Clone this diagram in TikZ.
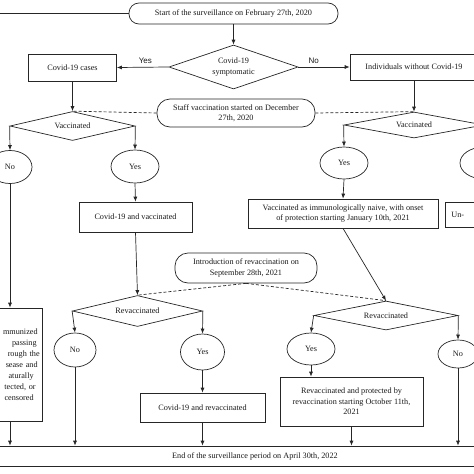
\documentclass[tikz,border=0pt]{standalone}
\usepackage{fontspec}
\setmainfont{Liberation Serif}
\newfontfamily\labfont{Liberation Sans}
\usetikzlibrary{shapes.geometric,arrows.meta}
\begin{document}
\begin{tikzpicture}[x=1pt,y=-1pt,
  every node/.style={font=\fontsize{8.2}{10.5}\selectfont, text=black!90},
  line/.style={draw=black!85, line width=0.7pt},
  arr/.style={line, -{Latex[length=5pt,width=4pt]}},
  dashline/.style={line, dash pattern=on 3pt off 2pt},
  box/.style={rectangle, line, inner sep=3pt, align=center},
  term/.style={rectangle, line, rounded corners=10pt, align=center},
  dia/.style={diamond, line, inner sep=0pt, align=center},
  ell/.style={ellipse, line, inner sep=0pt},
  lab/.style={font=\labfont\fontsize{8}{9}\selectfont, above}
]
\useasboundingbox (0,0) rectangle (474,474);
\clip (0,0) rectangle (474,474);

\coordinate (lstart) at (0,13.5);
\node[term, minimum width=209pt, minimum height=21pt] (start) at (233.5,13.5) {Start of the surveillance on February 27th, 2020};
\node[dia, shape aspect=2.9, minimum width=129pt, minimum height=44pt] (symp) at (233.5,67) {Covid-19\\symptomatic};
\node[box, minimum width=88pt, minimum height=27pt] (cases) at (72.5,67.5) {Covid-19 cases};
\node[box, minimum width=128pt, minimum height=26pt] (ind) at (414,67) {Individuals without Covid-19};
\node[dia, shape aspect=4.3, minimum width=125pt, minimum height=29pt] (vacL) at (72.5,126) {Vaccinated};
\node[dia, shape aspect=5.4, minimum width=140pt, minimum height=26pt] (vacR) at (414,125) {Vaccinated};
\node[term, rounded corners=13pt, minimum width=158pt, minimum height=28pt] (staff) at (236,113) {Staff vaccination started on December\\27th, 2020};

\node[ell, minimum width=44pt, minimum height=33pt] (noL) at (10,167) {No};
\node[ell, minimum width=48pt, minimum height=33pt] (yesL) at (135,166.5) {Yes};
\node[ell, minimum width=48pt, minimum height=32pt] (yesR) at (344,163) {Yes};
\node[ell, minimum width=48pt, minimum height=32pt] (noR) at (484,163) {};
\node[box, anchor=west, inner xsep=6pt, text width=50pt, align=left, minimum height=25pt] (unv) at (445,214.5) {Un-};

\node[box, minimum width=113pt, minimum height=30pt] (cv) at (135.5,217) {Covid-19 and vaccinated};
\node[box, minimum width=190pt, minimum height=29pt] (naive) at (343,213.5) {Vaccinated as immunologically naive, with onset\\of protection starting January 10th, 2021};

\node[term, rounded corners=13pt, minimum width=142pt, minimum height=30pt] (intro) at (246,268) {Introduction of revaccination on\\September 28th, 2021};
\node[dia, shape aspect=4.2, minimum width=130pt, minimum height=31pt] (revL) at (137.5,311) {Revaccinated};
\node[dia, shape aspect=5, minimum width=144pt, minimum height=29pt] (revR) at (386,315.5) {Revaccinated};

\node[ell, minimum width=42pt, minimum height=34pt] (noL2) at (75,350) {No};
\node[ell, minimum width=44pt, minimum height=36pt] (yesL2) at (202.5,352) {Yes};
\node[ell, minimum width=48pt, minimum height=32pt] (yesR2) at (311,349) {Yes};
\node[ell, minimum width=40pt, minimum height=28pt] (noR2) at (458,354) {No};

\node[box, minimum width=125pt, minimum height=29pt] (cr) at (202.5,407.5) {Covid-19 and revaccinated};
\node[box, minimum width=143pt, minimum height=49pt] (rp) at (351.5,401.5) {Revaccinated and protected by\\revaccination starting October 11th,\\2021};
\node[box, anchor=east, text width=70pt, align=right, minimum height=113pt, font=\fontsize{8.2}{11}\selectfont] (imm) at (43,364.5) {mmunized\rule{2pt}{0pt}\\passing\rule{3pt}{0pt}\\rough the\\sease and\rule{2pt}{0pt}\\aturally\rule{6pt}{0pt}\\tected, or\rule{4pt}{0pt}\\censored\rule{6pt}{0pt}};

\node[box, minimum width=540pt, minimum height=20pt] (end) at (255,456) {End of the surveillance period on April 30th, 2022};

\draw[line] (lstart) -- (start.west);
\draw[arr] (start.south) -- (symp.north);
\draw[arr] (symp.west) -- node[lab, pos=0.45]{Yes} (cases.east);
\draw[arr] (symp.east) -- node[lab, pos=0.3]{No} (ind.west);
\draw[arr] (cases.south) -- (vacL.north);
\draw[arr] (ind.south) -- (vacR.north);
\draw[dashline] (staff.west) -- (vacL.north);
\draw[dashline] (staff.east) -- (vacR.north);
\draw[arr] (vacL.west) -- (noL.north);
\draw[arr] (vacL.east) -- (yesL.north);
\draw[arr] (vacR.west) -- (yesR.north);
\draw[arr] (vacR.east) -- (noR.north);
\draw[arr] (yesL.south) -- (cv.north);
\draw[arr] (yesR.south) -- (naive.north);
\draw[arr] (noL.south) -- (noL.south |- imm.north);
\draw[arr] (cv.south) -- (revL.north);
\draw[arr] (naive.south) -- (revR.north);
\draw[dashline] (intro.south) -- (revL.north);
\draw[dashline] (intro.south) -- (revR.north);
\draw[arr] (revL.west) -- (noL2.north);
\draw[arr] (revL.east) -- (yesL2.north);
\draw[arr] (revR.west) -- (yesR2.north);
\draw[arr] (revR.east) -- (noR2.north);
\draw[arr] (yesL2.south) -- (cr.north);
\draw[arr] (yesR2.south) -- (yesR2.south |- rp.north);
\draw[arr] (noL.south |- imm.south) -- (noL.south |- end.north);
\draw[arr] (noL2.south) -- (noL2.south |- end.north);
\draw[arr] (cr.south) -- (cr.south |- end.north);
\draw[arr] (rp.south) -- (rp.south |- end.north);
\draw[arr] (noR2.south) -- (noR2.south |- end.north);
\end{tikzpicture}
\end{document}
